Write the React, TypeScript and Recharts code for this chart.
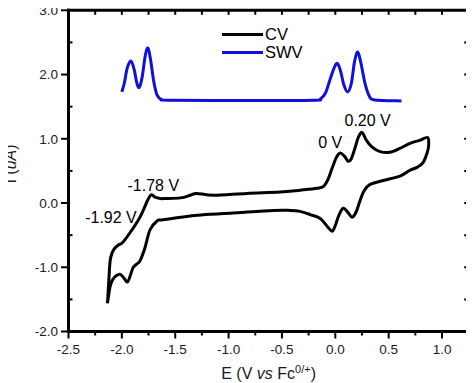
import React from 'react';
import { ComposedChart, Line, XAxis, YAxis, Legend, ReferenceDot, ReferenceLine } from 'recharts';

// ---- data ----
const cvE = [
  -2.135, -2.122, -2.11, -2.09, -2.065, -2.03, -1.99, -1.906, -1.83, -1.756, -1.722, -1.69, -1.64, -1.59,
  -1.45, -1.36, -1.3, -1.14, -0.83, -0.52, -0.33, -0.17, -0.11, -0.07, -0.03, 0.01, 0.045, 0.085, 0.12,
  0.15, 0.185, 0.215, 0.25, 0.29, 0.345, 0.42, 0.51, 0.605, 0.7, 0.79, 0.865, 0.875, 0.86, 0.822, 0.766,
  0.7, 0.607, 0.448, 0.326, 0.27, 0.232, 0.195, 0.157, 0.12, 0.075, 0.036, 0.0, -0.029, -0.067, -0.142,
  -0.235, -0.33, -0.42, -0.58, -0.985, -1.293, -1.611, -1.67, -1.737, -1.784, -1.83, -1.86, -1.896,
  -1.925, -1.95, -1.98, -2.015, -2.05, -2.085, -2.11, -2.135,
];
const cvI = [
  -1.56, -1.2, -0.9, -0.77, -0.7, -0.65, -0.61, -0.42, -0.22, 0.05, 0.13, 0.09, 0.07, 0.07,
  0.08, 0.12, 0.15, 0.12, 0.15, 0.17, 0.2, 0.23, 0.26, 0.36, 0.54, 0.71, 0.78, 0.73, 0.65,
  0.69, 0.86, 1.02, 1.1, 0.98, 0.87, 0.8, 0.79, 0.85, 0.93, 0.975, 1.02, 0.9, 0.78, 0.63, 0.555,
  0.51, 0.42, 0.35, 0.29, 0.19, 0.04, -0.14, -0.22, -0.15, -0.08, -0.18, -0.35, -0.44, -0.38, -0.24,
  -0.18, -0.13, -0.115, -0.115, -0.16, -0.19, -0.26, -0.28, -0.42, -0.7, -0.9, -0.95, -1.01,
  -1.15, -1.23, -1.17, -1.11, -1.13, -1.19, -1.3, -1.56,
];
const swvE = [
  -2.0, -1.975, -1.95, -1.915, -1.885, -1.86, -1.838, -1.81, -1.78, -1.755, -1.73, -1.7, -1.67, -1.63,
  -1.55, -0.8, -0.2, -0.14, -0.09, -0.04, 0.01, 0.045, 0.08, 0.115, 0.15, 0.18, 0.21, 0.24, 0.28, 0.32,
  0.37, 0.62,
];
const swvI = [
  1.73, 1.88, 2.1, 2.21, 2.08, 1.87, 1.8, 1.96, 2.3, 2.41, 2.22, 1.88, 1.68, 1.615,
  1.6, 1.595, 1.6, 1.62, 1.72, 1.97, 2.17, 2.08, 1.84, 1.73, 1.86, 2.2, 2.35, 2.18, 1.85, 1.66,
  1.605, 1.59,
];
const xMajorTicks = [-2.5, -2, -1.5, -1, -0.5, 0, 0.5, 1];
const xMinorTicks = [-2.25, -1.75, -1.25, -0.75, -0.25, 0.25, 0.75];
const yMajorTicks = [-2, -1, 0, 1, 2, 3];
const yMinorTicks = [-1.5, -0.5, 0.5, 1.5, 2.5];
const xDomain = [-2.5, 1.25];
const yDomain = [-2, 3];
const annLabels = ['-1.78 V', '-1.92 V', '0 V', '0.20 V'];
const annE = [-1.705, -2.102, -0.048, 0.303];
const annI = [0.272, -0.225, 0.939, 1.285];
const seriesNames = ['CV', 'SWV'];

const cvData = cvE.map((e, k) => ({ e, i: cvI[k] }));
const swvData = swvE.map((e, k) => ({ e, i: swvI[k] }));

// ---- layout / style ----
const CHART_W = 466;
const CHART_H = 375;
const MARGIN = { top: 2.3, right: 5.3, bottom: 0, left: 0 };
const Y_AXIS_W = 60.5;
const X_AXIS_H = 51.5;
const PLOT_W = CHART_W - MARGIN.left - MARGIN.right - Y_AXIS_W;
const PLOT_H = CHART_H - MARGIN.top - MARGIN.bottom - X_AXIS_H;
const PX_X = PLOT_W / (xDomain[1] - xDomain[0]); // pixels per data unit
const PX_Y = PLOT_H / (yDomain[1] - yDomain[0]);
const FONT = '"Liberation Sans", Arial, Helvetica, sans-serif';
const BLUE = '#1010dc';
const TEXT = '#1a1a1a';
const TICK_FS = 13.5;

// simple Catmull-Rom curve factory (d3 curve interface)
function catmullRom(context: any) {
  let pts: number[][] = [];
  return {
    areaStart() {},
    areaEnd() {},
    lineStart() {
      pts = [];
    },
    point(x: number, y: number) {
      pts.push([+x, +y]);
    },
    lineEnd() {
      const n = pts.length;
      if (!n) return;
      context.moveTo(pts[0][0], pts[0][1]);
      const t = 1 / 6;
      for (let k = 0; k < n - 1; k++) {
        const p0 = pts[Math.max(0, k - 1)];
        const p1 = pts[k];
        const p2 = pts[k + 1];
        const p3 = pts[Math.min(n - 1, k + 2)];
        context.bezierCurveTo(
          p1[0] + (p2[0] - p0[0]) * t,
          p1[1] + (p2[1] - p0[1]) * t,
          p2[0] - (p3[0] - p1[0]) * t,
          p2[1] - (p3[1] - p1[1]) * t,
          p2[0],
          p2[1]
        );
      }
    },
  };
}

const tickStroke = { stroke: '#000', strokeWidth: 2, ifOverflow: 'visible' as const };
const frameStroke = { stroke: '#000', strokeWidth: 3, strokeLinecap: 'square' as const, ifOverflow: 'visible' as const };

const legendRow = (name: string, color: string) => (
  <div key={name} style={{ display: 'flex', alignItems: 'center', height: 18 }}>
    <span style={{ display: 'inline-block', width: 41, height: 3, background: color }} />
    <span style={{ marginLeft: 2, fontSize: 16.5, fontFamily: FONT, color: '#000', lineHeight: '18px' }}>{name}</span>
  </div>
);

const LegendBox = () => (
  <div>
    {legendRow(seriesNames[0], '#000')}
    {legendRow(seriesNames[1], BLUE)}
  </div>
);

export default function App() {
  const [x0, x1] = xDomain;
  const [y0, y1] = yDomain;
  return (
    <div style={{ position: 'relative', width: CHART_W, height: CHART_H }}>
      <ComposedChart width={CHART_W} height={CHART_H} margin={MARGIN}>
        <XAxis
          type="number"
          dataKey="e"
          domain={xDomain}
          ticks={xMajorTicks}
          interval={0}
          tickFormatter={(v: number) => v.toFixed(1)}
          tick={{ fontSize: TICK_FS, fill: TEXT, fontFamily: FONT }}
          tickLine={false}
          axisLine={false}
          tickSize={0}
          tickMargin={12.9}
          height={X_AXIS_H}
        />
        <YAxis
          type="number"
          domain={yDomain}
          ticks={yMajorTicks}
          interval={0}
          tickFormatter={(v: number) => v.toFixed(1)}
          tick={{ fontSize: TICK_FS, fill: TEXT, fontFamily: FONT }}
          tickLine={false}
          axisLine={false}
          tickSize={0}
          tickMargin={10.5}
          width={Y_AXIS_W}
        />
        {/* frame */}
        <ReferenceLine y={y0} {...frameStroke} />
        <ReferenceLine y={y1} {...frameStroke} />
        <ReferenceLine x={x0} {...frameStroke} />
        <ReferenceLine x={x1} {...frameStroke} />
        {/* x ticks: outward at bottom, inward at top */}
        {xMajorTicks.map((v) => (
          <ReferenceLine key={`xb${v}`} segment={[{ x: v, y: y0 }, { x: v, y: y0 - 7 / PX_Y }]} {...tickStroke} />
        ))}
        {xMinorTicks.map((v) => (
          <ReferenceLine key={`xbm${v}`} segment={[{ x: v, y: y0 }, { x: v, y: y0 - 4 / PX_Y }]} {...tickStroke} />
        ))}
        {[...xMajorTicks, ...xMinorTicks].map((v) => (
          <ReferenceLine key={`xt${v}`} segment={[{ x: v, y: y1 }, { x: v, y: y1 - 4.5 / PX_Y }]} {...tickStroke} />
        ))}
        {/* y ticks: major outward / minor inward at left, inward at right */}
        {yMajorTicks.map((v) => (
          <ReferenceLine key={`yl${v}`} segment={[{ x: x0 - 7.5 / PX_X, y: v }, { x: x0, y: v }]} {...tickStroke} />
        ))}
        {yMinorTicks.map((v) => (
          <ReferenceLine key={`ylm${v}`} segment={[{ x: x0, y: v }, { x: x0 + 4 / PX_X, y: v }]} {...tickStroke} />
        ))}
        {[...yMajorTicks, ...yMinorTicks].map((v) => (
          <ReferenceLine key={`yr${v}`} segment={[{ x: x1 - 4.5 / PX_X, y: v }, { x: x1, y: v }]} {...tickStroke} />
        ))}
        <Legend
          layout="vertical"
          align="center"
          verticalAlign="middle"
          wrapperStyle={{ position: 'absolute', left: 214, top: 17, width: 100, height: 36 }}
          content={<LegendBox />}
        />
        <Line
          data={cvData}
          dataKey="i"
          name={seriesNames[0]}
          type={catmullRom as any}
          stroke="#000"
          strokeWidth={3}
          dot={false}
          activeDot={false}
          strokeLinejoin="round"
          isAnimationActive={false}
        />
        <Line
          data={swvData}
          dataKey="i"
          name={seriesNames[1]}
          type={catmullRom as any}
          stroke={BLUE}
          strokeWidth={3}
          dot={false}
          activeDot={false}
          strokeLinejoin="round"
          isAnimationActive={false}
        />
        {annLabels.map((t, k) => (
          <ReferenceDot
            key={t}
            x={annE[k]}
            y={annI[k]}
            r={0}
            fill="none"
            stroke="none"
            label={{ value: t, position: 'center', fontSize: 16, fontFamily: FONT, fill: '#000' }}
          />
        ))}
      </ComposedChart>
      {/* axis titles */}
      <div
        style={{
          position: 'absolute',
          left: MARGIN.left + Y_AXIS_W,
          width: PLOT_W,
          top: MARGIN.top + PLOT_H + 34,
          textAlign: 'center',
          fontFamily: FONT,
          fontSize: 16,
          lineHeight: '16px',
          color: TEXT,
          whiteSpace: 'nowrap',
        }}
      >
        E (V <i>vs</i> Fc<span style={{ position: 'relative', top: -6, fontSize: 11 }}>0/+</span>)
      </div>
      <div
        style={{
          position: 'absolute',
          left: 3 - 30,
          width: 60,
          top: MARGIN.top + PLOT_H / 2 - 7 - 8,
          height: 16,
          textAlign: 'center',
          fontFamily: FONT,
          fontSize: 16,
          lineHeight: '16px',
          color: TEXT,
          whiteSpace: 'nowrap',
          transform: 'rotate(-90deg)',
        }}
      >
        I (<i>uA</i>)
      </div>
    </div>
  );
}
